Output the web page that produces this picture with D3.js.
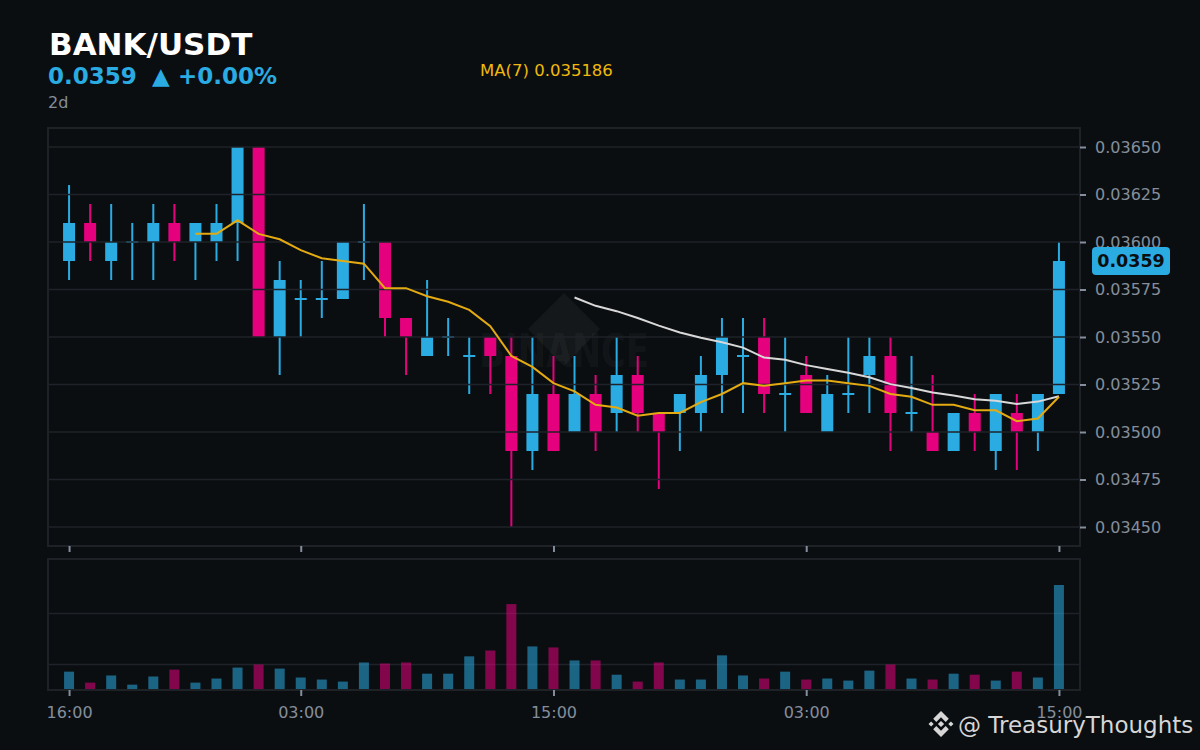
<!DOCTYPE html>
<html>
<head>
<meta charset="utf-8">
<script src="https://cdn.jsdelivr.net/npm/d3@7"></script>
<style>
  html, body { margin: 0; padding: 0; background: #0b0e11; }
  svg { display: block; font-family: "DejaVu Sans", sans-serif; }
</style>
</head>
<body>
<svg width="1200" height="750"></svg>
<script>
// hourly candles, 16:00 -> 15:00 two days later (48 bars)
const opens  = [0.0359,0.0361,0.0359,0.0360,0.0360,0.0361,0.0360,0.0360,0.0361,0.0365,0.0355,0.0357,
                0.0357,0.0357,0.0360,0.0360,0.0356,0.0354,0.0355,0.0354,0.0355,0.0354,0.0349,0.0352,
                0.0350,0.0352,0.0351,0.0353,0.0351,0.0351,0.0351,0.0353,0.0354,0.0355,0.0352,0.0353,
                0.0350,0.0352,0.0353,0.0354,0.0351,0.0350,0.0349,0.0351,0.0349,0.0351,0.0350,0.0352];
const highs  = [0.0363,0.0362,0.0362,0.0361,0.0362,0.0362,0.0361,0.0362,0.0365,0.0365,0.0359,0.0358,
                0.0359,0.0360,0.0362,0.0360,0.0356,0.0358,0.0356,0.0355,0.0355,0.0355,0.0355,0.0354,
                0.0354,0.0353,0.0355,0.0354,0.0351,0.0352,0.0354,0.0356,0.0356,0.0356,0.0355,0.0354,
                0.0353,0.0355,0.0355,0.0355,0.0354,0.0353,0.0351,0.0352,0.0352,0.0352,0.0352,0.0360];
const lows   = [0.0358,0.0359,0.0358,0.0358,0.0358,0.0359,0.0358,0.0359,0.0359,0.0355,0.0353,0.0355,
                0.0356,0.0357,0.0358,0.0355,0.0353,0.0354,0.0354,0.0352,0.0352,0.0345,0.0348,0.0349,
                0.0350,0.0349,0.0350,0.0350,0.0347,0.0349,0.0350,0.0351,0.0351,0.0351,0.0350,0.0351,
                0.0350,0.0351,0.0351,0.0349,0.0350,0.0349,0.0349,0.0349,0.0348,0.0348,0.0349,0.0352];
const closes = [0.0361,0.0360,0.0360,0.0360,0.0361,0.0360,0.0361,0.0361,0.0365,0.0355,0.0358,0.0357,
                0.0357,0.0360,0.0360,0.0356,0.0355,0.0355,0.0355,0.0354,0.0354,0.0349,0.0352,0.0349,
                0.0352,0.0350,0.0353,0.0351,0.0350,0.0352,0.0353,0.0355,0.0354,0.0352,0.0352,0.0351,
                0.0352,0.0352,0.0354,0.0351,0.0351,0.0349,0.0351,0.0350,0.0352,0.0350,0.0352,0.0359];
// volume, thousands
const volumes = [72,29,57,21,53,80,29,45,88,100,84,49,41,33,108,104,108,64,64,132,155,337,171,167,
                 116,116,60,33,108,41,41,136,57,45,72,41,45,37,76,100,45,41,64,60,37,72,49,412];

const startHour = 16;
const xTickIdx = [0, 11, 23, 35, 47];
const priceTicks = [0.0345, 0.03475, 0.035, 0.03525, 0.0355, 0.03575, 0.036, 0.03625, 0.0365];
const volGrid = [100, 300];

const pairName = "BANK/USDT";
const changeTxt = "+0.00%";
const periodTxt = "2d";

const bgCol = "#0b0e11", gridCol = "#1f2329", frameCol = "#1e2227", muted = "#848e9c";
const blue = "#2aabe2", pink = "#e5007e", gold = "#e3aa12", ma25Col = "#d8d8d8";

const pLeft = 48, pRight = 1080, pTop = 128, mainBottom = 546, volTop = 559, volBottom = 690;
const n = closes.length;

const svg = d3.select("svg");
svg.append("rect").attr("width", 1200).attr("height", 750).attr("fill", bgCol);

const x = d3.scaleLinear().domain([-1, n]).range([pLeft, pRight]);
const y = d3.scaleLinear().domain([0.0344, 0.0366]).range([mainBottom, pTop]);
const yv = d3.scaleLinear().domain([0, 514]).range([volBottom, volTop]);

const bars = d3.range(n).map(i => ({i, o: opens[i], h: highs[i], l: lows[i], c: closes[i],
  v: volumes[i], up: closes[i] >= opens[i]}));

// faint exchange watermark
const wm = svg.append("g").attr("fill", "#fff").attr("fill-opacity", 0.045);
wm.append("path").attr("d", "M564,293 L600,329 L564,366 L528,329 Z");
wm.append("text").attr("x", 564).attr("y", 367).attr("text-anchor", "middle")
  .attr("font-size", 46).attr("font-weight", "bold")
  .attr("textLength", 170).attr("lengthAdjust", "spacingAndGlyphs").text("BINANCE");

// candles
const cg = svg.append("g");
cg.selectAll("line").data(bars).join("line")
  .attr("x1", d => x(d.i)).attr("x2", d => x(d.i))
  .attr("y1", d => y(d.h)).attr("y2", d => y(d.l))
  .attr("stroke", d => d.up ? blue : pink).attr("stroke-width", 2);
cg.selectAll("rect").data(bars).join("rect")
  .attr("x", d => x(d.i) - 6).attr("width", 12)
  .attr("y", d => d.o === d.c ? y(d.o) - 1 : y(Math.max(d.o, d.c)))
  .attr("height", d => Math.max(2, Math.abs(y(d.o) - y(d.c))))
  .attr("fill", d => d.up ? blue : pink);

// grid sits over the candles
svg.append("g").selectAll("line").data(priceTicks).join("line")
  .attr("x1", pLeft).attr("x2", pRight).attr("y1", d => y(d)).attr("y2", d => y(d))
  .attr("stroke", gridCol).attr("stroke-width", 1.5);

// moving averages
function sma(p) {
  return closes.map((c, i) => i < p - 1 ? null : d3.mean(closes.slice(i - p + 1, i + 1)));
}
const ma7 = sma(7), ma25 = sma(25);
const maLine = d3.line().defined(d => d != null).x((d, i) => x(i)).y(d => y(d));
svg.append("path").attr("d", maLine(ma25)).attr("fill", "none").attr("stroke", ma25Col).attr("stroke-width", 2);
svg.append("path").attr("d", maLine(ma7)).attr("fill", "none").attr("stroke", gold).attr("stroke-width", 2);

// volume panel
svg.append("g").selectAll("line").data(volGrid).join("line")
  .attr("x1", pLeft).attr("x2", pRight).attr("y1", d => yv(d)).attr("y2", d => yv(d))
  .attr("stroke", gridCol).attr("stroke-width", 1.5);
svg.append("g").selectAll("rect").data(bars).join("rect")
  .attr("x", d => x(d.i) - 5).attr("width", 10)
  .attr("y", d => yv(d.v)).attr("height", d => yv(0) - yv(d.v))
  .attr("fill", d => d.up ? blue : pink).attr("fill-opacity", 0.55);

// frames
[[pTop, mainBottom], [volTop, volBottom]].forEach(([a, b]) => {
  svg.append("rect").attr("x", pLeft).attr("y", a).attr("width", pRight - pLeft).attr("height", b - a)
    .attr("fill", "none").attr("stroke", frameCol).attr("stroke-width", 2);
});

// axes
function styleAxis(g) {
  g.select(".domain").remove();
  g.selectAll(".tick line").attr("stroke", muted).attr("stroke-width", 2);
  g.selectAll(".tick text").attr("fill", muted).attr("font-size", 16).attr("font-family", "DejaVu Sans");
}
svg.append("g").attr("transform", `translate(${pRight},0)`)
  .call(d3.axisRight(y).tickValues(priceTicks).tickFormat(d3.format(".5f")).tickSize(6).tickPadding(9))
  .call(styleAxis);
const hourLabel = i => String((startHour + i) % 24).padStart(2, "0") + ":00";
svg.append("g").attr("transform", `translate(0,${mainBottom})`)
  .call(d3.axisBottom(x).tickValues(xTickIdx).tickFormat("").tickSize(6))
  .call(styleAxis);
svg.append("g").attr("transform", `translate(0,${volBottom})`)
  .call(d3.axisBottom(x).tickValues(xTickIdx).tickFormat(hourLabel).tickSize(6).tickPadding(11))
  .call(styleAxis);

// last price tag
const lastPx = closes[n - 1];
svg.append("rect").attr("x", 1092).attr("y", y(lastPx) - 14).attr("width", 78).attr("height", 28)
  .attr("rx", 4).attr("fill", blue);
svg.append("text").attr("x", 1131).attr("y", y(lastPx)).attr("dy", "0.36em").attr("text-anchor", "middle")
  .attr("font-size", 17.5).attr("font-weight", "bold").attr("fill", bgCol).text(d3.format(".4f")(lastPx));

// header
svg.append("text").attr("x", 49).attr("y", 55).attr("font-size", 31).attr("font-weight", "bold")
  .attr("fill", "#fff").text(pairName);
const hdr = svg.append("g").attr("font-size", 23).attr("font-weight", "bold").attr("fill", blue);
hdr.append("text").attr("x", 48).attr("y", 84).text(d3.format(".4f")(lastPx));
hdr.append("text").attr("x", 152).attr("y", 84).text("▲");
hdr.append("text").attr("x", 178).attr("y", 84).text(changeTxt);
svg.append("text").attr("x", 48).attr("y", 108).attr("font-size", 16).attr("fill", muted).text(periodTxt);
svg.append("text").attr("x", 480).attr("y", 76).attr("font-size", 16.5).attr("fill", "#f0b90b")
  .text("MA(7) " + d3.format(".6f")(ma7[n - 1]));

// credit, bottom right
const logo = svg.append("g").attr("transform", "translate(928,711) scale(26)").attr("fill", "#d6d6d6");
logo.append("path").attr("d",
  "M0.5,0 L0.8,0.3 L0.68,0.42 L0.5,0.24 L0.32,0.42 L0.2,0.3 Z " +
  "M0.5,1 L0.8,0.7 L0.68,0.58 L0.5,0.76 L0.32,0.58 L0.2,0.7 Z " +
  "M0.5,0.38 L0.62,0.5 L0.5,0.62 L0.38,0.5 Z " +
  "M0.12,0.4 L0.22,0.5 L0.12,0.6 L0.02,0.5 Z M0.88,0.4 L0.98,0.5 L0.88,0.6 L0.78,0.5 Z");
svg.append("text").attr("x", 958).attr("y", 733).attr("font-size", 23).attr("fill", "#d6d6d6")
  .text("@ TreasuryThoughts");
</script>
</body>
</html>
